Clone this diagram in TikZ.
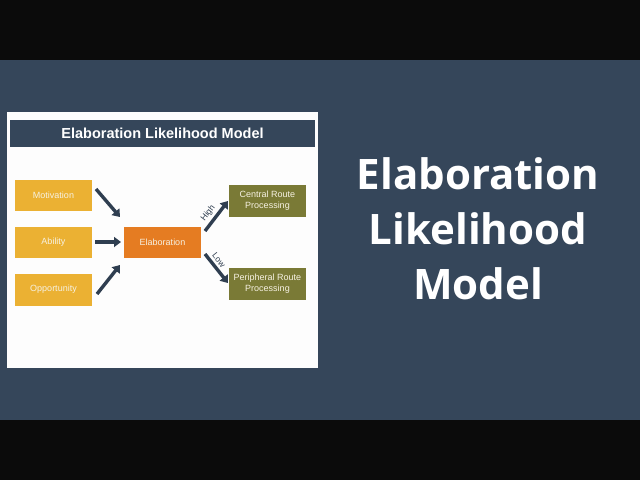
\documentclass[tikz,border=0pt]{standalone}
\usepackage{fontspec}
\setmainfont{Liberation Sans}
\newfontfamily\bigf{Open Sans}
\usetikzlibrary{arrows.meta}
\definecolor{slate}{HTML}{35465A}
\definecolor{cardbg}{HTML}{FDFDFD}
\definecolor{ybox}{HTML}{EBB133}
\definecolor{obox}{HTML}{E57C22}
\definecolor{gbox}{HTML}{7A7A36}
\definecolor{arr}{HTML}{2F3E50}
\definecolor{bar}{HTML}{0B0B0B}
\definecolor{btext}{HTML}{F6F1E2}
\tikzset{
  stepbox/.style={draw=none, text=btext, font=\fontsize{9}{11}\selectfont, align=center, inner sep=0pt},
  bigarrow/.style={draw=arr, line width=3.4pt, -{Triangle[length=7pt,width=10pt]}},
  lbl/.style={font=\fontsize{8.5}{9}\selectfont, text=arr, inner sep=0.5pt}
}
\begin{document}
\begin{tikzpicture}[x=1pt,y=-1pt]
\useasboundingbox (0,0) rectangle (640,480);
\fill[bar] (0,0) rectangle (640,480);
\fill[slate] (0,60) rectangle (640,420);
% card
\fill[cardbg] (7,112) rectangle (318,368);
\node[fill=slate, minimum width=305pt, minimum height=27pt, inner sep=0pt, text=white, font=\bfseries\fontsize{14.5}{16}\selectfont] (title) at (162.5,133.5) {Elaboration Likelihood Model};
% boxes
\node[stepbox, fill=ybox, minimum width=77pt, minimum height=31pt] (mot) at (53.5,195.5) {Motivation};
\node[stepbox, fill=ybox, minimum width=77pt, minimum height=31pt] (abi) at (53.5,242.5) {Ability};
\node[stepbox, fill=ybox, minimum width=77pt, minimum height=32pt] (opp) at (53.5,289.5) {Opportunity};
\node[stepbox, fill=obox, minimum width=77pt, minimum height=31pt] (ela) at (162.5,242.5) {Elaboration};
\node[stepbox, fill=gbox, minimum width=77pt, minimum height=32pt] (cen) at (267.5,201) {Central Route\\Processing};
\node[stepbox, fill=gbox, minimum width=77pt, minimum height=32pt] (per) at (267.5,284) {Peripheral Route\\Processing};
% arrow endpoints
\coordinate (m1) at (96,189); \coordinate (m2) at (120,217);
\coordinate (a1) at (95,242); \coordinate (a2) at (121,242);
\coordinate (o1) at (97,294); \coordinate (o2) at (120,265);
\coordinate (h1) at (205,231); \coordinate (h2) at (228,201);
\coordinate (l1) at (205,254); \coordinate (l2) at (228,283);
\draw[bigarrow] (m1) -- (m2);
\draw[bigarrow] (a1) -- (a2);
\draw[bigarrow] (o1) -- (o2);
\draw[bigarrow] (h1) -- (h2) node[lbl, pos=0.42, sloped, above=2pt] {High};
\draw[bigarrow] (l1) -- (l2) node[lbl, pos=0.36, sloped, above=2pt] {Low};
% big title
\node[text=white, font=\bigf\bfseries\fontsize{42}{55}\selectfont, align=center, inner sep=0pt] (big) at (478,229) {Elaboration\\Likelihood\\Model};
\end{tikzpicture}
\end{document}
